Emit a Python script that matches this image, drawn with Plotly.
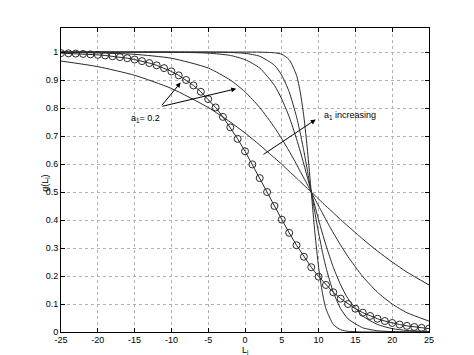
import plotly.graph_objects as go

# x grid for the solid sigmoid curves (all pass through L=9, g=0.5)
L_grid = [-25, -20, -15, -10, -5, -2, 0, 2, 4, 5, 6, 7, 7.5, 8, 8.5, 9,
          9.5, 10, 10.5, 11, 12, 13, 14, 16, 18, 20, 22, 25]

g_a01 = [0.968, 0.948, 0.917, 0.870, 0.802, 0.750, 0.711, 0.668, 0.622, 0.599,
         0.574, 0.550, 0.537, 0.525, 0.512, 0.500, 0.488, 0.475, 0.463, 0.450,
         0.426, 0.401, 0.378, 0.332, 0.289, 0.250, 0.214, 0.168]
g_a02 = [0.999, 0.997, 0.992, 0.978, 0.943, 0.900, 0.858, 0.802, 0.731, 0.690,
         0.646, 0.599, 0.574, 0.550, 0.525, 0.500, 0.475, 0.450, 0.426, 0.401,
         0.354, 0.310, 0.269, 0.198, 0.142, 0.100, 0.069, 0.039]
g_a04 = [1.000, 1.000, 1.000, 0.9995, 0.9963, 0.988, 0.973, 0.943, 0.881, 0.832,
         0.769, 0.690, 0.646, 0.599, 0.550, 0.500, 0.450, 0.401, 0.354, 0.310,
         0.231, 0.168, 0.119, 0.057, 0.027, 0.012, 0.0055, 0.0017]
g_a06 = [1.000, 1.000, 1.000, 1.000, 0.9998, 0.9986, 0.9955, 0.985, 0.953, 0.917,
         0.858, 0.769, 0.711, 0.646, 0.574, 0.500, 0.426, 0.354, 0.289, 0.231,
         0.142, 0.083, 0.047, 0.015, 0.0045, 0.0014, 0.0004, 0.0001]
g_a12 = [1.000, 1.000, 1.000, 1.000, 1.000, 1.000, 1.000, 0.9998, 0.9975, 0.992,
         0.973, 0.917, 0.858, 0.769, 0.646, 0.500, 0.354, 0.231, 0.142, 0.083,
         0.027, 0.008, 0.0025, 0.0002, 0.0, 0.0, 0.0, 0.0]

# circle-marked curve (a1 = 0.2, shifted), one marker per unit of L
L_circ = list(range(-25, 26))
g_circ = [0.9963, 0.9955, 0.9945, 0.9933, 0.9918, 0.9900, 0.9879, 0.9852, 0.9820,
          0.9781, 0.9734, 0.9677, 0.9608, 0.9526, 0.9427, 0.9309, 0.9168, 0.9002,
          0.8808, 0.8581, 0.8320, 0.8022, 0.7685, 0.7311, 0.6900, 0.6457, 0.5987,
          0.5498, 0.5000, 0.4502, 0.4013, 0.3543, 0.3100, 0.2689, 0.2315, 0.1978,
          0.1680, 0.1419, 0.1192, 0.0998, 0.0832, 0.0691, 0.0573, 0.0474, 0.0392,
          0.0323, 0.0266, 0.0219, 0.0180, 0.0148, 0.0121]

x_ticks = [-25, -20, -15, -10, -5, 0, 5, 10, 15, 20, 25]
y_ticks = [0, 0.1, 0.2, 0.3, 0.4, 0.5, 0.6, 0.7, 0.8, 0.9, 1.0]
y_ticktext = ["0", "0.1", "0.2", "0.3", "0.4", "0.5", "0.6", "0.7", "0.8", "0.9", "1"]

FONT = "Liberation Sans, Arial, Helvetica, sans-serif"
LC = "#2a2a2a"

fig = go.Figure()
for ys in [g_a01, g_a02, g_a04, g_a06, g_a12]:
    fig.add_trace(go.Scatter(x=L_grid, y=ys, mode="lines",
                             line=dict(color=LC, width=1, shape="spline", smoothing=0.6),
                             showlegend=False, hoverinfo="skip"))
fig.add_trace(go.Scatter(x=L_circ, y=g_circ, mode="lines+markers",
                         line=dict(color=LC, width=1),
                         marker=dict(symbol="circle-open", size=7, color=LC, line=dict(width=1, color=LC)),
                         showlegend=False, hoverinfo="skip"))

axis_common = dict(showline=True, linecolor="black", linewidth=1, mirror="ticks",
                   ticks="inside", ticklen=4, tickcolor="black",
                   showgrid=True, gridcolor="#b0b0b0", griddash="dot", gridwidth=1,
                   zeroline=False, tickfont=dict(family=FONT, size=9, color="black"))

fig.update_xaxes(range=[-25, 25], tickvals=x_ticks, ticktext=[str(v) for v in x_ticks],
                 ticklabelstandoff=-1, **axis_common)
fig.update_yaxes(range=[0, 1.086], tickvals=y_ticks, ticktext=y_ticktext, **axis_common)

arrow = dict(showarrow=True, arrowhead=2, arrowsize=1, arrowwidth=1, arrowcolor="black",
             axref="x", ayref="y", xref="x", yref="y", text="")
fig.add_annotation(x=-8.74, y=0.891, ax=-11.45, ay=0.805, **arrow)
fig.add_annotation(x=-1.19, y=0.869, ax=-11.45, ay=0.805, **arrow)
fig.add_annotation(x=9.61, y=0.759, ax=2.31, ay=0.631, **arrow)

fig.add_annotation(x=-15.7, y=0.763, xref="x", yref="y", xanchor="left", yanchor="middle",
                   text="a<sub>1</sub>= 0.2", showarrow=False, font=dict(family=FONT, size=9, color="black"))
fig.add_annotation(x=10.4, y=0.775, xref="x", yref="y", xanchor="left", yanchor="middle",
                   text="a<sub>1</sub> increasing", showarrow=False, font=dict(family=FONT, size=9, color="black"))

fig.add_annotation(x=0.5, y=-0.061, xref="paper", yref="paper", xanchor="center", yanchor="middle",
                   text="L<sub>l</sub>", showarrow=False, font=dict(family=FONT, size=9, color="black"))
fig.add_annotation(x=-0.044, y=0.49, xref="paper", yref="paper", xanchor="center", yanchor="middle",
                   text="g(L<sub>l</sub>)", textangle=-90, showarrow=False,
                   font=dict(family=FONT, size=9, color="black"))

# page body has an 8px default margin, so the figure is sized to fit the window
fig.update_layout(width=466, height=347, margin=dict(l=53, r=45, t=20, b=23, autoexpand=False),
                  paper_bgcolor="white", plot_bgcolor="white")

fig.write_html("out.html")
